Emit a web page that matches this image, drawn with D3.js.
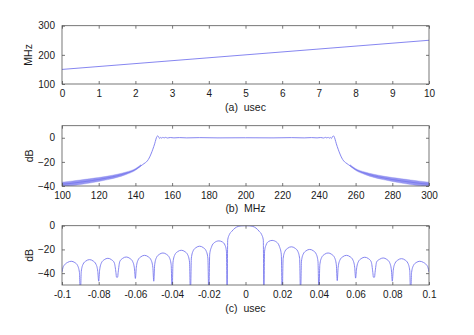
<!DOCTYPE html>
<html>
<head>
<meta charset="utf-8">
<script src="https://cdn.jsdelivr.net/npm/d3@7"></script>
<style>
  html, body { margin: 0; padding: 0; background: #fff; }
  svg { display: block; }
  text { font-family: "Liberation Sans", Arial, Helvetica, sans-serif; fill: #1a1a1a; }
</style>
</head>
<body>
<svg id="chart" width="474" height="335"></svg>
<script>
// ---------- Data ----------
// (a) instantaneous frequency of the chirp
const chirpTime = [0, 10];            // usec
const chirpFreq = [150, 250];         // MHz
const aXTicks = [0, 1, 2, 3, 4, 5, 6, 7, 8, 9, 10];
const aYTicks = [100, 200, 300];

// (b) spectrum (MHz, dB)
const spectrum = [
  [100,-38.5],[105,-37.8],[110,-36.8],[115,-35.8],[120,-34.6],[125,-33.2],[130,-31.6],
  [135,-29.4],[138,-27.8],[140,-26.3],[142,-24.4],[144,-22.2],[145.5,-20.6],[146.5,-19.2],
  [147.5,-16.8],[148.5,-13.5],[149.5,-9.5],[150.5,-5],[151.2,-1.2],[151.7,1],[152.2,1.5],
  [152.8,0.4],[153.2,-0.6],[153.8,0.3],[154.4,-0.4],[155,0.5],[155.6,-0.2],[156.4,0.3],
  [157.5,-0.2],[159,0.2],[161,-0.1],[164,0.15],[168,-0.1],[175,0.1],[185,-0.1],[200,0],
  [215,-0.1],[225,0.1],[232,-0.1],[236,0.15],[239,-0.1],[241,0.2],[242.5,-0.2],[243.6,0.3],
  [244.4,-0.2],[245,0.5],[245.6,-0.4],[246.2,0.3],[246.8,-0.6],[247.2,0.4],[247.8,1.5],
  [248.3,1],[248.8,-1.2],[249.5,-5],[250.5,-9.5],[251.5,-13.5],[252.5,-16.8],[253.5,-19.2],
  [254.5,-20.6],[256,-22.2],[258,-24.4],[260,-26.3],[262,-27.8],[265,-29.4],[270,-31.6],
  [275,-33.2],[280,-34.6],[285,-35.8],[290,-36.8],[295,-37.8],[300,-38.5]
];
// ripple band of the skirts: [MHz, lowest dB, highest dB]
const rippleLeft = [
  [100,-40.6,-36.8],[105,-39.8,-36],[110,-38.8,-35],[115,-37.6,-34],[120,-36.2,-33],
  [125,-34.7,-31.8],[130,-32.9,-30.3],[135,-30.4,-28.4],[140,-27,-25.6],[143,-23.4,-22.4]
];
const rippleRight = [
  [257,-23.4,-22.4],[260,-27,-25.6],[265,-30.4,-28.4],[270,-32.9,-30.3],[275,-34.7,-31.8],
  [280,-36.2,-33],[285,-37.6,-34],[290,-38.8,-35],[295,-39.8,-36],[300,-40.6,-36.8]
];
const bXTicks = [100, 120, 140, 160, 180, 200, 220, 240, 260, 280, 300];
const bYTicks = [-40, -20, 0];

// (c) compressed pulse (usec, dB)
const pulse = [
  [-0.1,-39],[-0.0995,-35.5],[-0.0985,-32.8],[-0.097,-31],[-0.095,-30],[-0.093,-31.1],[-0.0915,-33.6],[-0.0905,-39.5],[-0.09,-60],
  [-0.0895,-38.6],[-0.0885,-32.4],[-0.087,-29.8],[-0.085,-28.6],[-0.083,-29.8],[-0.0815,-32.4],[-0.0805,-38.6],[-0.08,-46.8],
  [-0.0795,-37.5],[-0.0785,-31.3],[-0.077,-28.7],[-0.075,-27.5],[-0.073,-28.7],[-0.0715,-31.3],[-0.0706,-39.5],[-0.0703,-43.4],[-0.0697,-43.4],
  [-0.0694,-39.5],[-0.0685,-30.2],[-0.067,-27.6],[-0.065,-26.4],[-0.063,-27.6],[-0.0615,-30.2],[-0.0605,-36.4],[-0.06,-44.5],
  [-0.0595,-35],[-0.0585,-28.8],[-0.057,-26.2],[-0.055,-25],[-0.053,-26.2],[-0.0515,-28.8],[-0.0505,-35],[-0.05,-46.8],
  [-0.0495,-33],[-0.0485,-26.8],[-0.047,-24.2],[-0.045,-23],[-0.043,-24.2],[-0.0415,-26.8],[-0.0405,-33],[-0.04,-60],
  [-0.0395,-30.7],[-0.0385,-24.5],[-0.037,-21.9],[-0.035,-20.7],[-0.033,-21.9],[-0.0315,-24.5],[-0.0305,-30.7],[-0.03,-60],
  [-0.0295,-27.3],[-0.0285,-21.1],[-0.027,-18.5],[-0.025,-17.3],[-0.023,-18.5],[-0.0215,-21.1],[-0.0205,-27.3],[-0.02,-60],
  [-0.0195,-24],[-0.0185,-17.8],[-0.017,-14.3],[-0.0145,-12.8],[-0.0125,-13.8],[-0.0112,-16.3],[-0.0104,-21.5],[-0.01,-60],
  [-0.0097,-12],[-0.0088,-7.5],[-0.0075,-4.8],[-0.0057,-2],[-0.004,-0.6],[-0.002,-0.1],[0,0],
  [0.002,-0.1],[0.004,-0.6],[0.0057,-2],[0.0075,-4.8],[0.0088,-7.5],[0.0097,-12],
  [0.01,-60],[0.0104,-21.5],[0.0112,-16.3],[0.0125,-13.4],[0.0145,-12.4],[0.017,-13.9],[0.0185,-17.6],[0.0195,-24],
  [0.02,-60],[0.0205,-27.8],[0.0215,-21.6],[0.023,-19],[0.025,-17.8],[0.027,-19],[0.0285,-21.6],[0.0295,-27.8],
  [0.03,-60],[0.0305,-30],[0.0315,-23.8],[0.033,-21.2],[0.035,-20],[0.037,-21.2],[0.0385,-23.8],[0.0395,-30],
  [0.04,-60],[0.0405,-33],[0.0415,-26.8],[0.043,-24.2],[0.045,-23],[0.047,-24.2],[0.0485,-26.8],[0.0495,-33],
  [0.05,-46.3],[0.0505,-35],[0.0515,-28.8],[0.053,-26.2],[0.055,-25],[0.057,-26.2],[0.0585,-28.8],[0.0595,-35],
  [0.06,-44.2],[0.0605,-36.6],[0.0615,-30.4],[0.063,-27.8],[0.065,-26.6],[0.067,-27.8],[0.0685,-30.4],[0.0694,-39.5],
  [0.0697,-43.4],[0.0703,-43.4],[0.0706,-39.5],[0.0715,-30.4],[0.073,-28.4],[0.075,-27.2],[0.077,-28.4],[0.0785,-31],[0.0795,-37.2],
  [0.08,-46.8],[0.0805,-37.8],[0.0815,-31.6],[0.083,-29],[0.085,-27.8],[0.087,-29],[0.0885,-31.6],[0.0895,-37.8],
  [0.09,-60],[0.0905,-39.5],[0.0915,-33.6],[0.093,-31.1],[0.095,-30],[0.097,-31],[0.0985,-32.8],[0.0995,-35.5],[0.1,-39]
];
const cXTicks = [-0.1, -0.08, -0.06, -0.04, -0.02, 0, 0.02, 0.04, 0.06, 0.08, 0.1];
const cXTickLabels = ["-0.1","-0.08","-0.06","-0.04","-0.02","0","0.02","0.04","0.06","0.08","0.1"];
const cYTicks = [-40, -20, 0];

const panelTitles = ["(a)  usec", "(b)  MHz", "(c)  usec"];
const panelYLabels = ["MHz", "dB", "dB"];

// ---------- Layout ----------
const svg = d3.select("#chart");
const X0 = 62, X1 = 429;
const lineColor = "#7878ee";
const frameColor = "#555";

function panel(cfg) {
  const x = d3.scaleLinear().domain(cfg.xDomain).range([X0, X1]);
  const y = d3.scaleLinear().domain(cfg.yDomain).range([cfg.bottom, cfg.top]);
  const g = svg.append("g");
  const clipId = "clip" + cfg.id;
  svg.append("defs").append("clipPath").attr("id", clipId)
    .append("rect").attr("x", X0).attr("y", cfg.top).attr("width", X1 - X0).attr("height", cfg.bottom - cfg.top);

  const plot = g.append("g").attr("clip-path", `url(#${clipId})`);
  cfg.draw(plot, x, y);

  const tl = 3;
  const fmt = cfg.xFormat || (d => d);
  const xb = d3.axisBottom(x).tickValues(cfg.xTicks).tickSize(-tl).tickPadding(6).tickFormat(fmt);
  const gx = g.append("g").attr("transform", `translate(0,${cfg.bottom})`).call(xb);
  const xt = d3.axisTop(x).tickValues(cfg.xTicks).tickSize(-tl).tickFormat("");
  const gxt = g.append("g").attr("transform", `translate(0,${cfg.top})`).call(xt);
  const yl = d3.axisLeft(y).tickValues(cfg.yTicks).tickSize(-tl).tickPadding(7);
  const gy = g.append("g").attr("transform", `translate(${X0},0)`).call(yl);
  const yr = d3.axisRight(y).tickValues(cfg.yTicks).tickSize(-tl).tickFormat("");
  const gyr = g.append("g").attr("transform", `translate(${X1},0)`).call(yr);
  [gx, gxt, gy, gyr].forEach(a => {
    a.select(".domain").remove();
    a.selectAll(".tick line").attr("stroke", frameColor).attr("stroke-width", 0.8);
    a.selectAll("text").attr("font-size", 10).attr("fill", "#1a1a1a")
      .style("font-family", '"Liberation Sans", Arial, sans-serif');
  });
  g.append("rect").attr("x", X0).attr("y", cfg.top).attr("width", X1 - X0).attr("height", cfg.bottom - cfg.top)
    .attr("fill", "none").attr("stroke", frameColor).attr("stroke-width", 0.8);

  g.append("text").attr("x", (X0 + X1) / 2).attr("y", cfg.titleY)
    .attr("text-anchor", "middle").attr("font-size", 10.5)
    .attr("xml:space", "preserve").text(cfg.title);
  g.append("text").attr("transform", `translate(${cfg.ylabX},${(cfg.top + cfg.bottom) / 2}) rotate(-90)`)
    .attr("text-anchor", "middle").attr("font-size", 10.5).text(cfg.ylabel);
}

// (a)
panel({
  id: "a", xDomain: [0, 10], yDomain: [100, 300], top: 25.7, bottom: 84,
  xTicks: aXTicks, yTicks: aYTicks, title: panelTitles[0], titleY: 111, ylabel: panelYLabels[0], ylabX: 32,
  draw: (p, x, y) => {
    const pts = chirpTime.map((t, i) => [t, chirpFreq[i]]);
    p.append("path").datum(pts).attr("fill", "none").attr("stroke", lineColor).attr("stroke-width", 0.9)
      .attr("d", d3.line().x(d => x(d[0])).y(d => y(d[1])));
  }
});

// (b)
panel({
  id: "b", xDomain: [100, 300], yDomain: [-40, 10], top: 125.7, bottom: 186,
  xTicks: bXTicks, yTicks: bYTicks, title: panelTitles[1], titleY: 212, ylabel: panelYLabels[1], ylabX: 33,
  draw: (p, x, y) => {
    const area = d3.area().x(d => x(d[0])).y0(d => y(d[1])).y1(d => y(d[2])).curve(d3.curveMonotoneX);
    [rippleLeft, rippleRight].forEach(r => {
      p.append("path").datum(r).attr("fill", "#7c7cee").attr("fill-opacity", 0.8)
        .attr("stroke", "#8a8af0").attr("stroke-width", 0.4).attr("d", area);
    });
    p.append("path").datum(spectrum).attr("fill", "none").attr("stroke", lineColor).attr("stroke-width", 0.9)
      .attr("d", d3.line().x(d => x(d[0])).y(d => y(d[1])).curve(d3.curveMonotoneX));
  }
});

// (c)
panel({
  id: "c", xDomain: [-0.1, 0.1], yDomain: [-50, 0], top: 225.7, bottom: 285,
  xTicks: cXTicks, yTicks: cYTicks, title: panelTitles[2], titleY: 311.5, ylabel: panelYLabels[2], ylabX: 33,
  xFormat: (d, i) => cXTickLabels[i],
  draw: (p, x, y) => {
    p.append("path").datum(pulse).attr("fill", "none").attr("stroke", lineColor).attr("stroke-width", 0.9)
      .attr("d", d3.line().x(d => x(d[0])).y(d => y(d[1])).curve(d3.curveMonotoneX));
  }
});
</script>
</body>
</html>
